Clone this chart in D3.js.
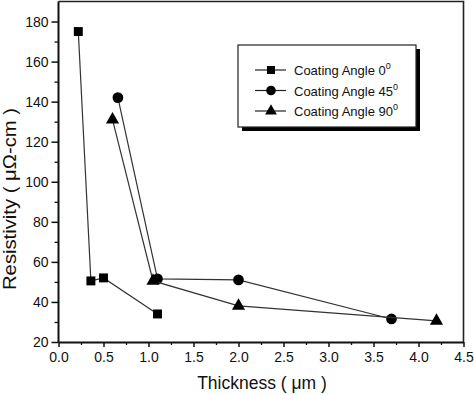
<!DOCTYPE html>
<html>
<head>
<meta charset="utf-8">
<script src="https://cdn.jsdelivr.net/npm/d3@7"></script>
<style>
  body { margin: 0; background: #fff; }
  text { font-family: "Liberation Sans", Arial, sans-serif; fill: #111; }
</style>
</head>
<body>
<div id="chart"></div>
<script>
// series data
const series = ["Coating Angle 0", "Coating Angle 45", "Coating Angle 90"];
const angle0X = [0.22, 0.36, 0.5, 1.1];
const angle0Y = [175, 50.5, 52, 34];
const angle45X = [0.66, 1.1, 2.0, 3.7];
const angle45Y = [142, 51.5, 51, 31.5];
const angle90X = [0.6, 1.05, 2.0, 4.2];
const angle90Y = [131, 50.5, 38, 30.5];
const xTicks = [0, 0.5, 1, 1.5, 2, 2.5, 3, 3.5, 4, 4.5];
const yTicks = [20, 40, 60, 80, 100, 120, 140, 160, 180];

const width = 474, height = 395;
const plot = {left: 58.5, right: 463.5, top: 1.5, bottom: 342};

const svg = d3.select("#chart")
  .append("svg")
    .attr("width", width)
    .attr("height", height);

const x = d3.scaleLinear().domain([0, 4.5]).range([plot.left, plot.right]);
const y = d3.scaleLinear().domain([20, 190]).range([plot.bottom, plot.top]);

// frame top + right
svg.append("path")
    .attr("d", `M${plot.left},${plot.top}H${plot.right}V${plot.bottom}`)
    .attr("fill", "none")
    .attr("stroke", "#222")
    .attr("stroke-width", 1.6);

// minor ticks
const xMinor = d3.range(0.25, 4.5, 0.5);
svg.append("g")
    .attr("transform", `translate(0,${plot.bottom})`)
    .call(d3.axisBottom(x).tickValues(xMinor).tickSize(3).tickFormat("").tickSizeOuter(0))
    .call(g => g.select(".domain").remove())
    .selectAll("line").attr("stroke", "#111").attr("stroke-width", 1.3);

const yMinor = d3.range(30, 190, 20);
svg.append("g")
    .attr("transform", `translate(${plot.left},0)`)
    .call(d3.axisLeft(y).tickValues(yMinor).tickSize(4).tickFormat("").tickSizeOuter(0))
    .call(g => g.select(".domain").remove())
    .selectAll("line").attr("stroke", "#111").attr("stroke-width", 1.3);

// x axis
const xAxis = svg.append("g")
    .attr("transform", `translate(0,${plot.bottom})`)
    .call(d3.axisBottom(x).tickValues(xTicks).tickSize(5).tickSizeOuter(0).tickFormat(d3.format(".1f")));
xAxis.select(".domain").attr("stroke", "#111").attr("stroke-width", 2);
xAxis.selectAll(".tick line").attr("stroke", "#111").attr("stroke-width", 1.5);
xAxis.selectAll("text")
    .attr("y", 10)
    .style("font-size", "14px")
    .style("font-family", "Liberation Sans, Arial, sans-serif")
    .attr("fill", "#111");

// y axis
const yAxis = svg.append("g")
    .attr("transform", `translate(${plot.left},0)`)
    .call(d3.axisLeft(y).tickValues(yTicks).tickSize(7).tickSizeOuter(0));
yAxis.select(".domain")
    .attr("d", `M0,${plot.top}V${plot.bottom}`)
    .attr("stroke", "#111").attr("stroke-width", 2);
yAxis.selectAll(".tick line").attr("stroke", "#111").attr("stroke-width", 1.5);
yAxis.selectAll("text")
    .attr("x", -10)
    .style("font-size", "14px")
    .style("font-family", "Liberation Sans, Arial, sans-serif")
    .attr("fill", "#111");

// axis titles
svg.append("text")
    .attr("x", 262)
    .attr("y", 389)
    .attr("text-anchor", "middle")
    .style("font-size", "17.5px")
    .text("Thickness ( \u03bcm )");

svg.append("text")
    .attr("transform", "translate(16,199) rotate(-90)")
    .attr("text-anchor", "middle")
    .attr("textLength", 182)
    .attr("lengthAdjust", "spacingAndGlyphs")
    .style("font-size", "17.5px")
    .text("Resistivity ( \u03bc\u03a9-cm )");

// data lines and markers
const data = [
  {name: series[0], xs: angle0X, ys: angle0Y, symbol: d3.symbolSquare, size: 80},
  {name: series[1], xs: angle45X, ys: angle45Y, symbol: d3.symbolCircle, size: 90},
  {name: series[2], xs: angle90X, ys: angle90Y, symbol: d3.symbolTriangle, size: 75}
];

const line = d3.line().x(d => x(d[0])).y(d => y(d[1]));

data.forEach(s => {
  const pts = s.xs.map((v, i) => [v, s.ys[i]]);
  svg.append("path")
      .datum(pts)
      .attr("d", line)
      .attr("fill", "none")
      .attr("stroke", "#333")
      .attr("stroke-width", 1.2);
  svg.selectAll(null)
      .data(pts)
      .enter()
      .append("path")
      .attr("d", d3.symbol().type(s.symbol).size(s.size))
      .attr("transform", d => `translate(${x(d[0])},${y(d[1])})`)
      .attr("fill", "#000");
});

// legend
const lg = svg.append("g").attr("transform", "translate(238,45)");
lg.append("rect")
    .attr("x", 4).attr("y", 4)
    .attr("width", 178).attr("height", 82)
    .attr("fill", "#000");
lg.append("rect")
    .attr("width", 178).attr("height", 82)
    .attr("fill", "#fff")
    .attr("stroke", "#222")
    .attr("stroke-width", 1.2);

const labels = ["0", "45", "90"];
data.forEach((s, i) => {
  const row = lg.append("g").attr("transform", `translate(0,${25 + i * 20.5})`);
  row.append("line")
      .attr("x1", 17).attr("x2", 48)
      .attr("stroke", "#222").attr("stroke-width", 1.2);
  row.append("path")
      .attr("d", d3.symbol().type(s.symbol).size(s.size * 0.8))
      .attr("transform", "translate(33,0)")
      .attr("fill", "#000");
  const t = row.append("text")
      .attr("x", 56).attr("y", 5)
      .style("font-size", "13px")
      .text("Coating Angle " + labels[i]);
  t.append("tspan")
      .attr("dy", -6)
      .style("font-size", "9px")
      .text("0");
});
</script>
</body>
</html>
